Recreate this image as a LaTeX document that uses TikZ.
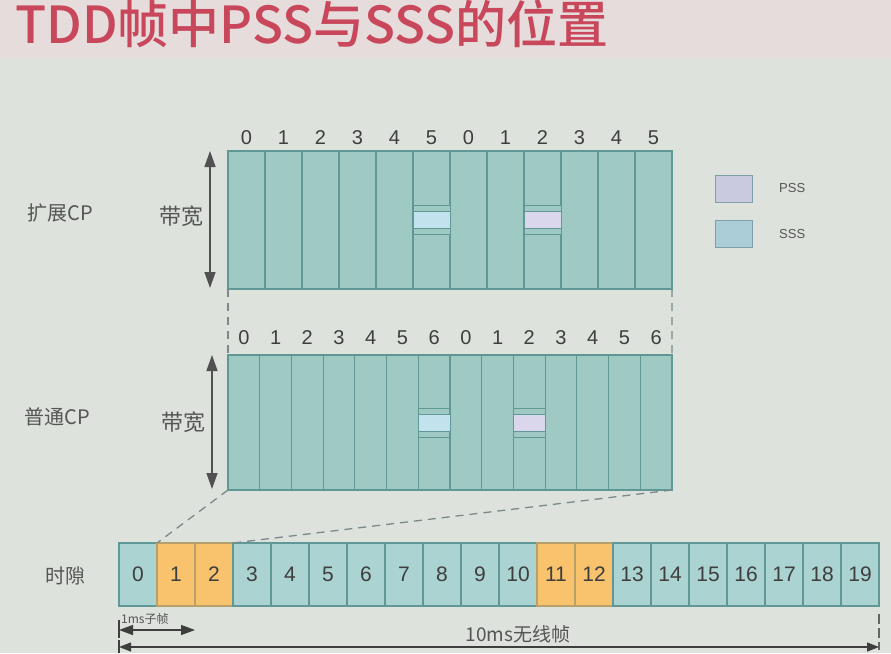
\documentclass[tikz,border=0pt]{standalone}
\usepackage{fontspec}
\setmainfont{Liberation Sans}
\newfontfamily\cjk{Noto Sans CJK SC}
\newfontfamily\cjkmed{Noto Sans CJK SC Medium}
\usetikzlibrary{arrows.meta}
\definecolor{bgmain}{HTML}{DDE2DD}
\definecolor{bgtop}{HTML}{E6DCDC}
\definecolor{titlec}{HTML}{C8475B}
\definecolor{cellc}{HTML}{9FCAC4}
\definecolor{celld}{HTML}{5F9894}
\definecolor{slotc}{HTML}{AAD3D1}
\definecolor{orangec}{HTML}{F8C36C}
\definecolor{orangd}{HTML}{B9A06A}
\definecolor{pssin}{HTML}{DAD6EC}
\definecolor{sssin}{HTML}{C2E2EE}
\definecolor{legp}{HTML}{C9C9E0}
\definecolor{legs}{HTML}{AACDD8}
\definecolor{legd}{HTML}{7F9FA9}
\definecolor{txt}{HTML}{3E3E3E}
\definecolor{lbl}{HTML}{555555}
\definecolor{dashc}{HTML}{7A8A8A}
\begin{document}
\begin{tikzpicture}[x=1pt,y=-1pt,
  tcell/.style={draw=celld,fill=cellc,line width=1.2pt,minimum width=37pt,minimum height=138pt,inner sep=0pt,outer sep=0pt,anchor=north west},
  bcell/.style={draw=celld,fill=cellc,line width=1.2pt,minimum width=31.714pt,minimum height=135pt,inner sep=0pt,outer sep=0pt,anchor=north west},
  slot/.style={draw=celld,fill=slotc,line width=1.2pt,minimum width=38pt,minimum height=63pt,inner sep=0pt,outer sep=0pt,anchor=north west},
  oslot/.style={slot,fill=orangec,draw=orangd},
  num/.style={text=txt,font=\fontsize{20}{20}\selectfont,inner sep=0pt},
  bandout/.style={draw=celld,fill=cellc,line width=1pt,minimum height=29pt,inner sep=0pt},
  bandin/.style={draw=celld,line width=0.6pt,minimum height=17pt,inner sep=0pt},
  lbltxt/.style={text=lbl,font=\cjk\fontsize{20}{20}\selectfont,inner sep=0pt},
  dashline/.style={draw=dashc,line width=1.3pt,dash pattern=on 8pt off 6pt},
  bwarrow/.style={draw=txt!90,line width=1.4pt,{Triangle[length=16pt,width=11pt]}-{Triangle[length=16pt,width=11pt]}},
  legbox/.style={draw=legd,line width=1.2pt,minimum width=37pt,minimum height=27pt,inner sep=0pt},
  legtxt/.style={text=lbl,font=\fontsize{13}{13}\selectfont,inner sep=0pt,anchor=west}
]
\fill[bgmain] (0,0) rectangle (891,653);
\fill[bgtop] (0,0) rectangle (891,58);
\useasboundingbox (0,0) rectangle (891,653);
% title
\node[text=titlec,font=\cjkmed\fontsize{51}{51}\selectfont,anchor=west,inner sep=0pt] (title) at (15,24) {TDD帧中PSS与SSS的位置};
% top grid (extended CP)
\foreach \i in {0,...,11}{
  \node[tcell] (t\i) at ({228+37*\i},151) {};
  \pgfmathtruncatemacro\l{mod(\i,6)}
  \node[num] (tl\i) at ({228+37*\i+18.5},138) {\l};
}
\node[bandout,minimum width=37pt] (tbs) at (t5.center) {};
\node[bandin,fill=sssin,minimum width=37pt] (tbsi) at (t5.center) {};
\node[bandout,minimum width=37pt] (tbp) at (t8.center) {};
\node[bandin,fill=pssin,minimum width=37pt] (tbpi) at (t8.center) {};
% bottom grid (normal CP)
\foreach \i in {0,...,13}{
  \node[bcell] (b\i) at ({228+31.714*\i},355) {};
  \pgfmathtruncatemacro\l{mod(\i,7)}
  \node[num] (bl\i) at ({228+31.714*\i+15.857},338) {\l};
}
\node[bandout,minimum width=31.7pt] (bbs) at (b6.center) {};
\node[bandin,fill=sssin,minimum width=31.7pt] (bbsi) at (b6.center) {};
\node[bandout,minimum width=31.7pt] (bbp) at (b9.center) {};
\node[bandin,fill=pssin,minimum width=31.7pt] (bbpi) at (b9.center) {};
% slots
\foreach \i/\s in {0/slot,1/oslot,2/oslot,3/slot,4/slot,5/slot,6/slot,7/slot,8/slot,9/slot,10/slot,11/oslot,12/oslot,13/slot,14/slot,15/slot,16/slot,17/slot,18/slot,19/slot}{
  \node[\s] (s\i) at ({119+38*\i},543) {};
  \node[text=txt,font=\fontsize{21}{21}\selectfont,inner sep=0pt] (sl\i) at (s\i.center) {\i};
}
% dashed connectors
\draw[dashline] (t0.south west) -- (b0.north west);
\draw[dashline] (t11.south east) -- (b13.north east);
\draw[dashline] (b0.south west) -- (s1.north west);
\draw[dashline] (b13.south east) -- (s3.north west);
% bandwidth arrows
\coordinate (a1t) at (210,151);
\coordinate (a1b) at (210,288);
\coordinate (a2t) at (212,355);
\coordinate (a2b) at (212,489);
\draw[bwarrow] (a1t) -- (a1b);
\draw[bwarrow] (a2t) -- (a2b);
% labels
\node[lbltxt] (ext) at (60,213) {扩展CP};
\node[lbltxt,font=\cjk\fontsize{22}{22}\selectfont] (bw1) at (181,216) {带宽};
\node[lbltxt] (nor) at (57,417) {普通CP};
\node[lbltxt,font=\cjk\fontsize{22}{22}\selectfont] (bw2) at (183,422) {带宽};
\node[lbltxt] (ts) at (65,576) {时隙};
% legend
\node[legbox,fill=legp] (lp) at (734,189) {};
\node[legtxt] (lpt) at (779,188) {PSS};
\node[legbox,fill=legs] (ls) at (734,234) {};
\node[legtxt] (lst) at (779,234) {SSS};
% bottom measures
\coordinate (m1a) at (119,630);
\coordinate (m1b) at (195,630);
\coordinate (m2a) at (119,647);
\coordinate (m2b) at (879,647);
\draw[txt,line width=1.2pt] (119,620) -- (119,638);
\draw[txt,line width=1.2pt] (119,640) -- (119,653);
\draw[txt!80,line width=1.2pt,dash pattern=on 10pt off 4pt] (879,614) -- (879,650);
\draw[txt,line width=1.3pt,{Triangle[length=14pt,width=10pt]}-{Triangle[length=14pt,width=10pt]}] (m1a) -- (m1b);
\draw[txt,line width=1.3pt,{Triangle[length=12pt,width=9pt]}-{Triangle[length=12pt,width=9pt]}] (m2a) -- (m2b);
\node[text=lbl,font=\cjk\fontsize{12}{12}\selectfont,inner sep=0pt,anchor=west] (onems) at (121,619) {1ms子帧};
\node[text=lbl,font=\cjk\fontsize{19}{19}\selectfont,inner sep=0pt] (tenms) at (518,634) {10ms无线帧};
\end{tikzpicture}
\end{document}
